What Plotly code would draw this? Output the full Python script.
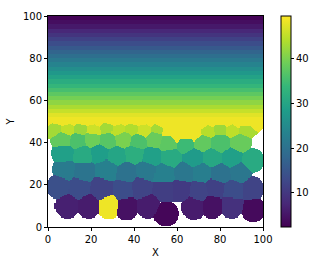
import numpy as np
import plotly.graph_objects as go

# ---- lower region: cell seeds (x, y, value) read row by row ----
row1_x = [9.0, 19.0, 28.1, 36.5, 46.5, 54.9, 67.9, 76.3, 85.5, 95.4]
row1_y = [10.0, 10.0, 9.8, 9.3, 10.0, 6.3, 9.5, 10.0, 10.0, 8.5]
row1_v = [6.5, 6.0, 48.5, 4.5, 6.0, 3.0, 6.0, 4.5, 9.0, 3.5]

row2_x = [5.2, 14.4, 25.0, 35.0, 43.4, 54.0, 61.8, 70.2, 77.8, 86.2, 94.6]
row2_y = [19.0, 18.5, 18.0, 17.8, 18.5, 17.5, 18.0, 17.0, 18.5, 17.5, 18.0]
row2_v = [14.0, 13.5, 12.0, 13.5, 12.0, 11.0, 10.5, 12.0, 11.5, 13.5, 12.0]

row3_x = [8.0, 16.5, 27.4, 36.5, 45.7, 54.0, 63.3, 71.7, 80.1, 89.3]
row3_y = [27.4, 26.5, 27.4, 26.0, 27.0, 25.5, 26.0, 26.0, 25.5, 26.0]
row3_v = [22.0, 20.5, 23.0, 20.0, 21.5, 23.0, 21.0, 22.5, 20.0, 21.0]

row4_x = [7.5, 16.0, 24.3, 32.0, 40.4, 48.0, 57.2, 67.9, 76.3, 85.5, 94.6]
row4_y = [35.0, 34.5, 35.5, 34.0, 35.0, 33.5, 33.0, 33.0, 33.0, 33.0, 31.5]
row4_v = [29.0, 31.0, 28.5, 30.0, 32.0, 29.0, 31.0, 28.0, 30.5, 29.0, 31.0]

row5_x = [7.0, 13.5, 20.5, 27.4, 35.0, 41.9, 49.5, 56.0, 64.0, 72.0, 80.0, 89.0]
row5_y = [41.9, 41.0, 42.0, 41.0, 42.0, 40.5, 42.0, 40.0, 39.5, 40.0, 39.6, 40.0]
row5_v = [38.0, 36.0, 39.0, 37.0, 40.0, 36.0, 38.5, 37.5, 34.5, 38.0, 36.0, 38.5]

row6_x = [3, 9, 15, 21, 27, 33, 39, 45, 51, 74, 80, 86, 92]
row6_y = [47, 46.5, 47, 46, 47.5, 46.5, 47, 46, 47, 46, 47, 46.5, 47]
row6_v = [43, 45, 42.5, 46, 43, 45, 44, 46, 43, 44.5, 42.5, 45, 43.5]

# seeds along the edge of the fine (gradient) region
upper_x = [0, 4, 8, 12, 16, 20, 24, 28, 32, 36, 40, 44, 48, 52, 56, 60, 64, 68,
           72, 76, 80, 84, 88, 92, 95]
upper_y = [51, 51, 50.5, 51, 50.5, 51, 50.5, 51, 50.5, 51, 50.5, 51, 50.5, 49,
           46, 43.5, 43, 44.5, 49, 50.5, 50, 50.5, 49.5, 48.5, 50]

# ---- upper region: value per 2-unit band from y=50 to y=100 ----
band_y0 = [50, 52, 54, 56, 58, 60, 62, 64, 66, 68, 70, 72, 74, 76, 78, 80, 82,
           84, 86, 88, 90, 92, 94, 96, 98]
band_v = [48.5, 47.5, 45.5, 43.5, 41.5, 39.5, 37.5, 35.5, 33.5, 31.5, 29.5,
          27.5, 25.5, 23.5, 21.5, 19.5, 17.5, 15.5, 13.5, 11.5, 9.5, 7.5, 5.5,
          4.0, 2.6]

sx = np.array(row1_x + row2_x + row3_x + row4_x + row5_x + row6_x + upper_x, float)
sy = np.array(row1_y + row2_y + row3_y + row4_y + row5_y + row6_y + upper_y, float)
sv = np.array(row1_v + row2_v + row3_v + row4_v + row5_v + row6_v
              + [np.nan] * len(upper_x), float)

step = 0.5
gx = np.arange(step / 2, 100, step)
gy = np.arange(step / 2, 100, step)
X, Y = np.meshgrid(gx, gy)
d2 = (X[..., None] - sx) ** 2 + (Y[..., None] - sy) ** 2
idx = d2.argmin(axis=-1)
dmin = np.sqrt(d2.min(axis=-1))

band_idx = np.clip(((Y - band_y0[0]) // 2).astype(int), 0, len(band_v) - 1)
grad = np.array(band_v)[band_idx]

Z = sv[idx]
Z = np.where(np.isnan(Z), grad, Z)
Z = np.where(Y >= 52, grad, Z)
outer = (Y < 52) & ((Y < 12) | (X < 9) | (X > 91))
Z = np.where(outer & (dmin > 6.0), np.nan, Z)

fig = go.Figure(go.Heatmap(
    x=gx, y=gy, z=Z, colorscale="Viridis", zmin=2.3, zmax=49.6,
    hoverongaps=False,
    colorbar=dict(
        x=1.082, xanchor="left", y=0.5, yanchor="middle", len=1, lenmode="fraction",
        thickness=10, thicknessmode="pixels", outlinewidth=1, outlinecolor="black",
        tickvals=[10, 20, 30, 40], ticks="outside", ticklen=3, tickcolor="black",
        tickfont=dict(family="DejaVu Sans", size=10, color="black"), xpad=0, ypad=0,
    ),
))

axis_common = dict(
    range=[0, 100], showgrid=False, zeroline=False, showline=True, linecolor="black",
    linewidth=1, mirror=True, ticks="outside", ticklen=3, tickcolor="black",
    tickvals=[0, 20, 40, 60, 80, 100],
    tickfont=dict(family="DejaVu Sans", size=10, color="black"),
)
fig.update_layout(
    width=319, height=266,
    margin=dict(l=47, r=54, t=10, b=38),
    plot_bgcolor="white", paper_bgcolor="white",
    xaxis=dict(axis_common, title=dict(text="X", standoff=4,
               font=dict(family="DejaVu Sans", size=10, color="black"))),
    yaxis=dict(axis_common, title=dict(text="Y", standoff=6,
               font=dict(family="DejaVu Sans", size=10, color="black"))),
)
fig.write_html("out.html")
